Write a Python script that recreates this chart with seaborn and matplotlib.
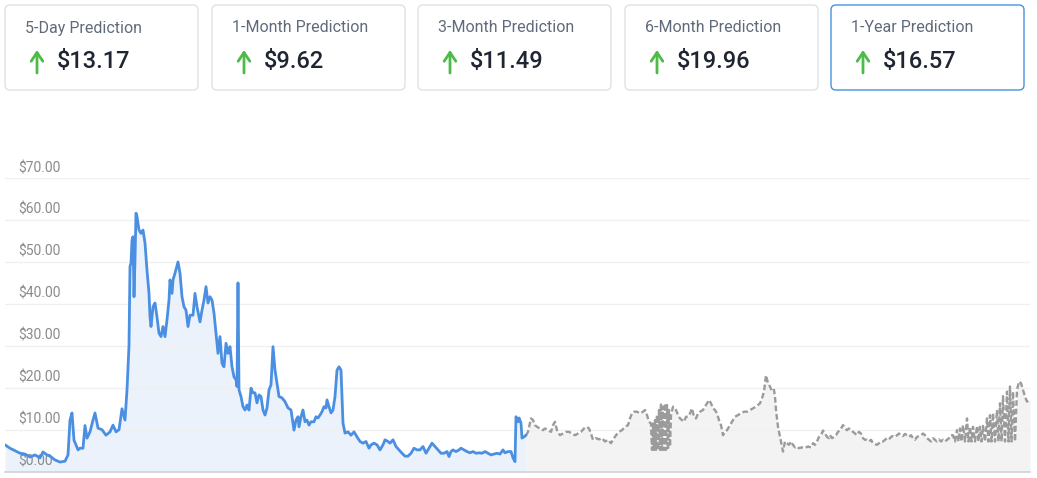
import numpy as np
import pandas as pd
import seaborn as sns
import matplotlib
matplotlib.use("Agg")
import matplotlib.pyplot as plt
from matplotlib.patches import FancyBboxPatch, FancyArrowPatch

# ---------------- data ----------------
card_titles = ["5-Day Prediction", "1-Month Prediction", "3-Month Prediction",
               "6-Month Prediction", "1-Year Prediction"]
card_values = ["$13.17", "$9.62", "$11.49", "$19.96", "$16.57"]

y_ticks = [0, 10, 20, 30, 40, 50, 60, 70]
y_tick_labels = ["$0.00", "$10.00", "$20.00", "$30.00", "$40.00", "$50.00", "$60.00", "$70.00"]

hist_day = [5, 10, 15, 20, 25, 30, 35, 40, 43, 47, 50, 55, 60, 65, 68, 70, 72, 74, 76, 78, 80, 83, 85, 87,
            90, 93, 95, 98, 102, 106, 110, 113, 116, 119, 122, 125, 127, 129, 130, 131, 132, 133, 134, 135,
            136, 137, 139, 141, 143, 145, 147, 149, 150, 151, 153, 155, 157, 159, 161, 163, 165, 167, 169,
            170, 172, 173, 175, 178, 180, 182, 184, 186, 188, 190, 193, 195, 197, 200, 202, 204, 206, 208,
            210, 212, 214, 216, 218, 220, 222, 224, 226, 228, 230, 232, 234, 236, 237, 238, 239, 241, 243,
            245, 247, 249, 251, 253, 255, 257, 259, 261, 263, 265, 267, 269, 271, 273, 275, 277, 279, 282,
            285, 288, 291, 293, 294, 296, 298, 299, 301, 303, 305, 307, 309, 311, 314, 316, 318, 320, 322,
            324, 326, 327, 329, 331, 333, 335, 337, 339, 341, 343, 345, 348, 351, 354, 357, 360, 363, 366,
            369, 371, 374, 377, 380, 383, 385, 388, 390, 393, 396, 399, 402, 405, 408, 411, 414, 417, 420,
            423, 426, 429, 432, 435, 438, 441, 444, 447, 449, 451, 453, 456, 459, 461, 464, 467, 470, 473,
            476, 479, 482, 485, 488, 491, 494, 497, 500, 503, 505, 508, 511, 513, 515, 516, 518, 519, 521,
            522, 524, 526]
hist_price = [6.4, 5.6, 5.0, 4.4, 4.2, 3.5, 4.0, 3.3, 4.7, 4.0, 3.7, 2.8, 2.3, 2.5, 4.0, 12.3, 14.0, 7.5, 6.4,
              5.2, 5.6, 5.6, 11.0, 8.0, 9.5, 12.3, 14.0, 10.4, 10.0, 8.7, 9.5, 11.1, 9.5, 10.0, 15.0, 12.3,
              19.5, 30.0, 48.9, 49.7, 55.2, 56.0, 41.7, 50.5, 61.6, 60.8, 57.6, 56.8, 57.6, 54.5, 48.0, 42.5,
              36.9, 34.6, 39.3, 40.2, 36.9, 33.0, 32.2, 34.6, 32.2, 36.2, 40.9, 45.7, 42.5, 45.7, 47.3, 50.0,
              47.3, 41.7, 39.3, 38.5, 34.6, 37.3, 37.3, 42.5, 39.3, 35.7, 38.5, 40.9, 44.1, 40.2, 41.7, 40.9,
              37.8, 33.0, 28.2, 32.2, 25.8, 25.0, 30.6, 28.2, 29.8, 25.0, 22.6, 21.9, 20.3, 45.0, 19.5, 17.9,
              15.5, 14.7, 15.9, 14.7, 19.9, 18.8, 18.8, 16.4, 18.3, 17.9, 14.7, 13.5, 15.2, 19.5, 20.7, 29.8,
              24.2, 21.1, 17.9, 17.6, 16.7, 15.2, 14.7, 11.6, 9.9, 12.3, 13.1, 10.7, 13.1, 14.7, 11.9, 12.3,
              11.1, 11.9, 11.9, 13.1, 12.8, 13.5, 14.3, 15.5, 15.2, 17.1, 15.5, 14.0, 14.7, 17.9, 24.2, 25.0,
              24.2, 11.6, 9.2, 9.5, 8.7, 9.5, 8.3, 7.2, 6.8, 7.2, 5.6, 6.4, 6.8, 6.4, 5.2, 6.4, 7.6, 7.2, 6.8,
              7.6, 6.0, 5.2, 4.4, 3.7, 3.7, 4.4, 5.6, 5.2, 5.2, 6.0, 4.4, 5.6, 6.8, 6.0, 5.2, 4.4, 4.4, 4.8,
              3.6, 4.8, 5.2, 4.8, 5.2, 5.6, 5.2, 4.8, 4.5, 4.8, 4.4, 4.5, 4.4, 4.8, 4.4, 4.0, 4.2, 4.4, 4.2,
              5.2, 4.5, 4.8, 4.8, 3.3, 2.4, 13.1, 11.9, 12.8, 11.6, 8.0, 8.3, 8.7]

fc_day = [526, 528, 531, 533, 535, 537, 540, 543, 545, 548, 551, 553, 555, 557, 560, 563, 566, 569, 572, 575,
          578, 581, 584, 587, 589, 591, 593, 596, 599, 602, 605, 608, 611, 613, 616, 619, 622, 625, 628, 630,
          632, 634, 637, 640, 643, 645, 647, 649, 651,
          652, 653, 654, 655, 656, 657, 658, 659, 660, 661, 662, 663, 664, 665, 666, 667, 668, 669, 670,
          671, 673, 676, 678, 680, 682, 684, 686, 688, 690, 692, 694, 696, 698, 700, 703, 705, 707, 709, 711,
          713, 715, 717, 719, 721, 723, 725, 727, 729, 731, 733, 735, 738, 741, 744, 747, 750, 753, 756, 758,
          760, 762, 764, 766, 768, 770, 772, 774, 775, 776, 778, 780, 782, 783, 785, 787, 789, 791, 793, 795,
          797, 799, 802, 804, 806, 808, 811, 813, 815, 817, 819, 821, 823, 825, 827, 829, 830, 832, 834, 836,
          838, 840, 842, 843, 845, 847, 849, 851, 853, 855, 857, 859, 861, 863, 865, 867, 869, 871, 873, 875,
          877, 879, 881, 883, 885, 887, 889, 891, 893, 895, 897, 899, 901, 903, 905, 907, 909, 911, 913, 915,
          917, 919, 921, 923, 925, 927, 929, 931, 933, 935, 937, 939, 941, 943, 945, 947, 949, 951,
          953, 955, 957, 958.5, 960, 961.5, 963, 965, 967, 968.5, 970, 971.5, 973, 975, 977, 978.5, 980,
          981.5, 983, 985, 987, 988.5, 990, 991.5, 993, 995, 997, 998.5, 1000, 1001.5, 1003, 1005, 1007,
          1008.5, 1010, 1011.5, 1013, 1015, 1017,
          1019, 1021, 1023, 1025, 1027, 1030]
fc_price = [8.7, 9.5, 12.7, 12.3, 11.1, 10.7, 10.3, 9.9, 10.3, 9.9, 9.5, 11.1, 11.9, 9.9, 8.7, 9.1, 9.5, 9.5,
            9.1, 8.7, 9.1, 9.5, 10.3, 10.7, 10.3, 9.1, 7.6, 8.0, 7.7, 8.0, 7.2, 7.6, 6.8, 7.6, 8.7, 9.5, 9.9,
            10.7, 11.1, 12.7, 13.9, 14.3, 14.3, 13.9, 14.3, 14.7, 13.5, 11.9, 11.5,
            5.2, 11.5, 5.2, 12.3, 5.2, 13.5, 5.2, 14.7, 5.2, 16.3, 5.2, 15.5, 5.2, 16.3, 5.2, 15.9, 5.2, 14.7, 6.0,
            13.5, 15.5, 14.7, 13.5, 12.7, 12.3, 11.9, 13.1, 13.1, 13.9, 15.1, 13.1, 12.7, 13.9, 14.3, 14.7,
            15.5, 16.3, 17.1, 16.3, 15.1, 14.7, 13.9, 12.3, 11.1, 8.7, 9.5, 9.9, 10.7, 11.5, 12.3, 13.1, 13.5,
            13.9, 14.3, 14.3, 14.7, 15.1, 15.5, 15.9, 16.3, 17.5, 19.1, 23.0, 21.1, 20.3, 19.1, 19.5, 17.9,
            14.7, 10.7, 8.3, 6.0, 4.8, 7.2, 6.8, 6.4, 7.2, 6.4, 5.8, 6.0, 5.6, 5.8, 5.6, 5.8, 6.0, 5.8, 6.8,
            6.4, 7.2, 8.3, 8.7, 9.8, 9.1, 8.3, 8.0, 8.7, 8.0, 8.3, 8.7, 9.5, 9.9, 10.7, 11.1, 10.3, 9.9, 10.3,
            9.9, 9.5, 9.1, 8.7, 9.5, 9.1, 8.0, 7.6, 7.6, 7.2, 7.6, 6.8, 6.6, 6.4, 6.8, 7.2, 7.2, 7.6, 8.0,
            7.7, 8.3, 8.5, 8.3, 8.7, 9.1, 8.7, 8.5, 9.0, 8.7, 8.3, 8.7, 8.0, 7.6, 8.3, 8.5, 8.7, 9.1, 8.7,
            8.0, 7.6, 7.2, 8.0, 7.6, 7.2, 7.7, 7.2, 7.6, 7.2, 7.6, 8.0, 8.7,
            8.7, 7.2, 9.9, 7.2, 10.3, 7.2, 11.1, 7.2, 12.7, 7.2, 10.7, 7.2, 10.7, 7.2, 10.9, 7.2, 10.7, 7.2,
            10.9, 7.2, 12.7, 7.2, 13.5, 7.2, 14.0, 7.2, 14.7, 7.2, 16.3, 7.2, 18.0, 7.2, 19.1, 7.2, 20.3, 7.2,
            19.1, 7.2, 19.5,
            21.5, 21.1, 19.5, 17.9, 16.7, 17.1]

# ---------------- styling ----------------
sns.set_style("white")
plt.rcParams["font.family"] = ["Roboto", "DejaVu Sans"]

W, H = 1037, 478
fig = plt.figure(figsize=(W / 100, H / 100), dpi=100)
fig.patch.set_facecolor("white")

y0_px, y70_px = 471.7, 178.0
ax = fig.add_axes([5 / W, 1 - y0_px / H, 1025 / W, (y0_px - y70_px) / H])

blue = "#4a8fe2"
gray = "#9b9b9b"

hist_df = pd.DataFrame({"day": hist_day, "price": hist_price})
fc_df = pd.DataFrame({"day": fc_day, "price": fc_price})

ax.fill_between(hist_df["day"], 0, hist_df["price"], color="#ebf2fc", lw=0, zorder=0.5)
ax.fill_between(fc_df["day"], 0, fc_df["price"], color="#f3f3f3", lw=0, zorder=0.5)

sns.lineplot(data=fc_df, x="day", y="price", ax=ax, color=gray, lw=1.7,
             linestyle=(0, (2.4, 1.2)), sort=False, estimator=None, zorder=2)
sns.lineplot(data=hist_df, x="day", y="price", ax=ax, color=blue, lw=2.0,
             sort=False, estimator=None, zorder=3)

ax.set_xlim(5, 1030)
ax.set_ylim(0, 70)
ax.set_yticks(y_ticks)
ax.tick_params(left=False, bottom=False, labelleft=False, labelbottom=False)
ax.set_xlabel("")
ax.set_ylabel("")
ax.grid(axis="y", color="#f0f0f0", lw=1)
ax.set_axisbelow(True)
for s in ["top", "right", "left"]:
    ax.spines[s].set_visible(False)
ax.spines["bottom"].set_color("#d2d2d2")
ax.spines["bottom"].set_linewidth(1.2)
ax.patch.set_alpha(0)

for v, lab in zip(y_ticks, y_tick_labels):
    ax.annotate(lab, xy=(0, v), xycoords=ax.get_yaxis_transform(),
                xytext=(13, 3), textcoords="offset pixels", ha="left", va="bottom",
                fontsize=10, color="#8a8a8a", zorder=1.5, annotation_clip=False)

# ---------------- prediction cards ----------------
card_left = [5, 212, 418, 625, 831]
card_w, card_top, card_bot = 193, 5, 90
for i, (t, val) in enumerate(zip(card_titles, card_values)):
    l = card_left[i]
    ec = "#4a8fe2" if i == 4 else "#dfe1e5"
    p = FancyBboxPatch((l / 100, (H - card_bot) / 100), card_w / 100, (card_bot - card_top) / 100,
                       boxstyle="round,pad=0,rounding_size=0.05", transform=fig.dpi_scale_trans,
                       fc="white", ec=ec, lw=1.0, zorder=1)
    fig.add_artist(p)
    fig.text((l + 20) / W, 1 - 28 / H, t, fontsize=11.5, color="#5f6b7a", ha="left", va="center",
             zorder=3)
    fig.text((l + 52) / W, 1 - 61 / H, val, fontsize=17, fontweight="medium", color="#1f2532",
             ha="left", va="center", zorder=3)
    arr = FancyArrowPatch(((l + 32) / 100, (H - 73) / 100), ((l + 32) / 100, (H - 50) / 100),
                          transform=fig.dpi_scale_trans,
                          arrowstyle="->,head_length=0.45,head_width=0.3", color="#4cbb47",
                          lw=2.0, mutation_scale=14, shrinkA=0, shrinkB=0, zorder=3)
    fig.add_artist(arr)

fig.savefig("out.png", dpi=100, facecolor="white")
